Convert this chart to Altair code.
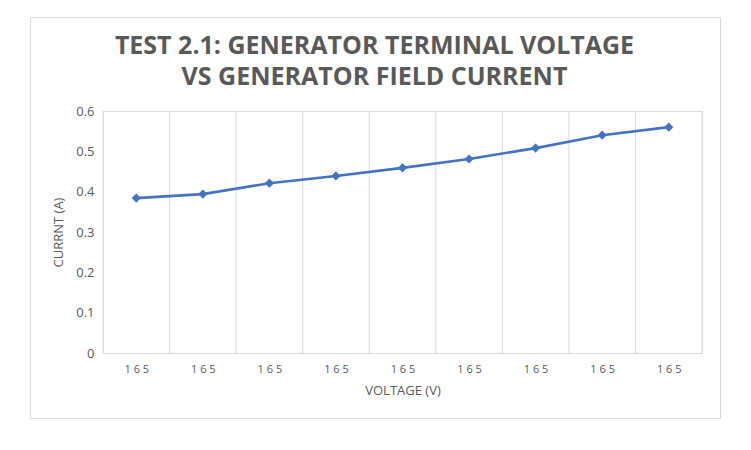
import altair as alt
import pandas as pd

categories = ["165"] * 9
current = [0.384, 0.394, 0.421, 0.439, 0.459, 0.481, 0.508, 0.540, 0.560]
y_ticks = [0, 0.1, 0.2, 0.3, 0.4, 0.5, 0.6]

df = pd.DataFrame({
    "idx": [i + 0.5 for i in range(len(current))],
    "label": categories,
    "current": current,
})
grid_df = pd.DataFrame({"b": list(range(len(current) + 1))})

W, H = 599, 242
PL, PT = 103, 111

xscale = alt.Scale(domain=[0, len(current)], nice=False, zero=False)
yscale = alt.Scale(domain=[0, 0.6], nice=False)

xaxis = alt.Axis(values=[i + 0.5 for i in range(len(current))],
                 labelExpr="'1 6 5'", ticks=False, grid=False,
                 domainColor="#d9d9d9", domainWidth=1,
                 labelColor="#595959", labelFont="Open Sans", labelFontSize=11,
                 labelPadding=10,
                 title="VOLTAGE (V)", titleFont="Open Sans", titleFontSize=13,
                 titleFontWeight="normal", titleColor="#595959", titlePadding=10)
yaxis = alt.Axis(values=y_ticks, labelExpr="datum.value == 0 ? '0' : format(datum.value, '.1f')",
                 ticks=False, grid=False, domain=False,
                 labelColor="#595959", labelFont="Open Sans", labelFontSize=13,
                 labelPadding=9,
                 title="CURRNT (A)", titleFont="Open Sans", titleFontSize=13,
                 titleFontWeight="normal", titleColor="#595959", titlePadding=10)

border = alt.Chart(pd.DataFrame({"a": [0]})).mark_rect(
    fill=None, fillOpacity=0, stroke="#d9d9d9", strokeWidth=1, clip=False
).encode(
    x=alt.value(30 - PL + 0.5), x2=alt.value(720 - PL + 0.5),
    y=alt.value(17 - PT + 0.5), y2=alt.value(418 - PT + 0.5),
)

grid = alt.Chart(grid_df).mark_rule(color="#d9d9d9", strokeWidth=1).encode(
    x=alt.X("b:Q", scale=xscale, axis=xaxis),
)

line = alt.Chart(df).mark_line(
    color="#4472C4", strokeWidth=2.6,
    point=alt.OverlayMarkDef(shape="diamond", size=85, filled=True, color="#4472C4"),
).encode(
    x=alt.X("idx:Q", scale=xscale, axis=xaxis),
    y=alt.Y("current:Q", scale=yscale, axis=yaxis),
)

chart = alt.layer(border, grid, line).properties(
    width=W, height=H,
    padding={"left": PL, "top": PT, "right": 751 - PL - W, "bottom": 450 - PT - H},
    autosize=alt.AutoSizeParams(type="none"),
    title=alt.TitleParams(
        text=["TEST 2.1: GENERATOR TERMINAL VOLTAGE", "VS GENERATOR FIELD CURRENT"],
        font="Open Sans", fontSize=25, fontWeight="bold", color="#595959",
        anchor="middle", dx=-28, offset=-73, lineHeight=31,
    ),
).configure_view(stroke=None).configure(background="white")

chart.save("out.html", embed_options={"renderer": "svg", "actions": False})
